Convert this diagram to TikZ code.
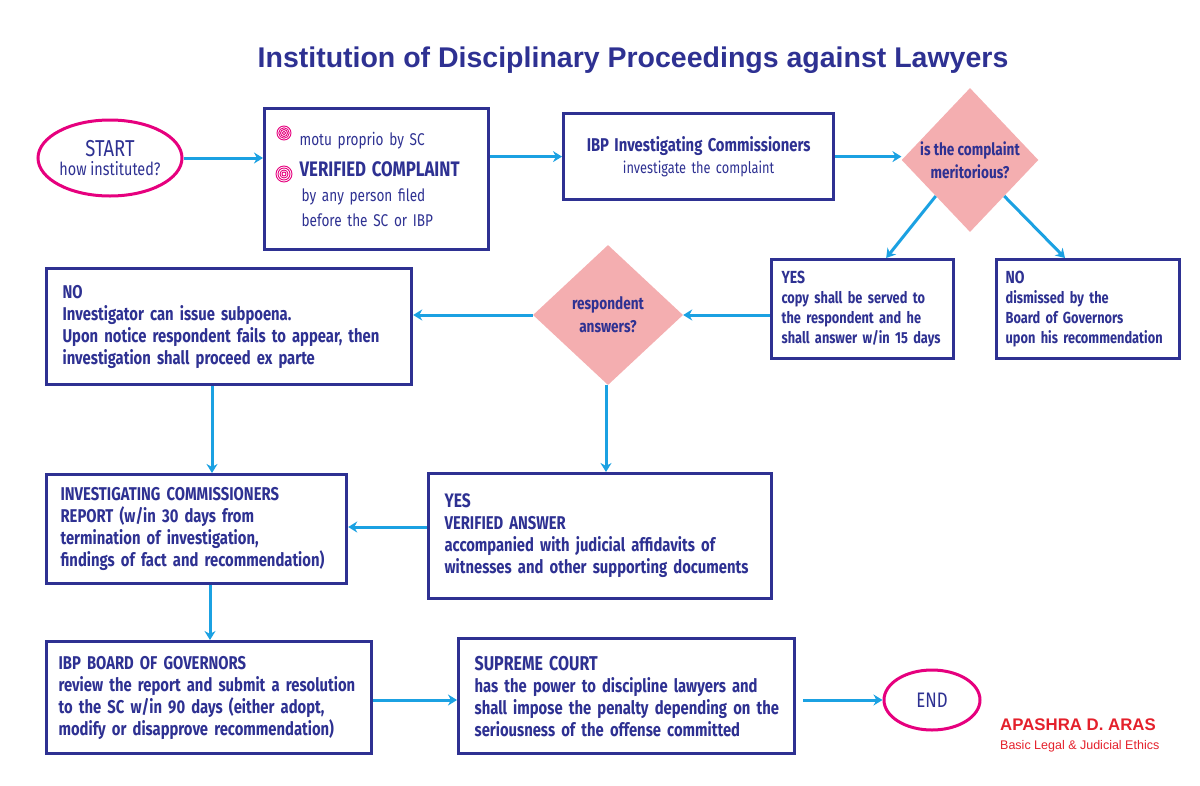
\documentclass[tikz,border=0pt]{standalone}
\usepackage{fontspec}
\setmainfont[FakeStretch=0.8]{Fira Sans}
\newfontfamily\titlefont{Liberation Sans}
\usetikzlibrary{shapes.geometric,arrows.meta}
\definecolor{navy}{HTML}{2E3192}
\definecolor{cyanA}{HTML}{1BA1E2}
\definecolor{pinkD}{HTML}{F4AEB0}
\definecolor{mag}{HTML}{E6007E}
\definecolor{sig}{HTML}{E4202B}
\begin{document}
\begin{tikzpicture}[x=1pt,y=-1pt,
 box/.style={draw=navy,line width=3.2pt,fill=white,anchor=north west,align=left,text=navy,font=\bfseries\fontsize{18.5}{22}\selectfont,inner ysep=6pt},
 dia/.style={diamond,fill=pinkD,text=navy,align=center,font=\bfseries\fontsize{17}{23}\selectfont,inner sep=0pt},
 oval/.style={ellipse,draw=mag,line width=3pt,fill=white,text=navy,align=center,inner sep=0pt},
 arr/.style={cyanA,line width=3pt,-{Stealth[length=9pt,width=11pt]}}]
\useasboundingbox (0,0) rectangle (1200,785);
\node[text=navy,font=\titlefont\bfseries\fontsize{28.5}{32}\selectfont] (title) at (633,60) {Institution of Disciplinary Proceedings against Lawyers};

\node[oval,minimum width=144pt,minimum height=76pt] (start) at (110,158) {{\fontsize{23}{24}\selectfont START}\\[3pt]{\fontsize{18}{20}\selectfont how instituted?}};
\node[box,font=\fontsize{17}{25}\selectfont,minimum height=141pt,text width=194pt,inner xsep=15pt] (b1) at (263,107)
 {\hspace*{20pt}motu proprio by SC\\[6pt]
  \hspace*{20pt}{\bfseries\fontsize{21}{25}\selectfont VERIFIED COMPLAINT}\\
  \hspace*{22pt}by any person filed\\
  \hspace*{22pt}before the SC or IBP};
\foreach \yy/\r in {133/7,174/8}{
 \foreach \k in {1,...,4}{\draw[mag,line width=0.9pt] (284,\yy) circle ({\r*\k/4});}}
\node[box,font=\fontsize{16}{22}\selectfont,minimum height=86pt,align=center,text width=254pt,inner xsep=8pt] (b2) at (562,112)
 {{\bfseries\fontsize{18.5}{22}\selectfont IBP Investigating Commissioners}\\investigate the complaint\\[10pt]};
\node[dia,minimum width=130pt,minimum height=144pt] (d1) at (970,160) {is the complaint\\meritorious?};
\node[box,font=\bfseries\fontsize{16}{20}\selectfont,minimum height=99pt,text width=162pt,inner xsep=10pt] (yes1) at (770,258)
 {{\fontsize{17.5}{20}\selectfont YES}\\copy shall be served to\\the respondent and he\\shall answer w/in 15 days};
\node[box,font=\bfseries\fontsize{16}{20}\selectfont,minimum height=99pt,text width=165pt,inner xsep=9pt] (no1) at (995,258)
 {{\fontsize{17.5}{20}\selectfont NO}\\dismissed by the\\Board of Governors\\upon his recommendation};
\node[dia,minimum width=150pt,minimum height=140pt] (d2) at (608,315) {respondent\\answers?};
\node[box,minimum height=116pt,text width=333pt,inner xsep=16pt] (no2) at (45,267)
 {NO\\Investigator can issue subpoena.\\Upon notice respondent fails to appear, then\\investigation shall proceed ex parte\\[4pt]};
\node[box,minimum height=109pt,text width=272pt,inner xsep=14pt] (rep) at (45,473)
 {INVESTIGATING COMMISSIONERS\\REPORT (w/in 30 days from\\termination of investigation,\\findings of fact and recommendation)};
\node[box,minimum height=125pt,text width=311pt,inner xsep=16pt] (yes2) at (427,472)
 {{\fontsize{19.5}{22}\selectfont YES}\\VERIFIED ANSWER\\accompanied with judicial affidavits of\\witnesses and other supporting documents};
\node[box,minimum height=112pt,text width=301pt,inner xsep=12pt] (ibp) at (45,640)
 {IBP BOARD OF GOVERNORS\\review the report and submit a resolution\\to the SC w/in 90 days (either adopt,\\modify or disapprove recommendation)};
\node[box,minimum height=115pt,text width=312pt,inner xsep=12pt] (sc) at (457,637)
 {\hspace*{4pt}{\fontsize{20}{24}\selectfont SUPREME COURT}\\\hspace*{4pt}has the power to discipline lawyers and\\\hspace*{4pt}shall impose the penalty depending on the\\\hspace*{4pt}seriousness of the offense committed};
\node[oval,minimum width=96pt,minimum height=60pt,font=\fontsize{21}{22}\selectfont] (end) at (932,700) {END};
\node[anchor=north west,text=sig,font=\titlefont\bfseries\fontsize{16.8}{18}\selectfont,inner sep=0pt] (sig1) at (1000,719) {APASHRA D. ARAS};
\node[anchor=north west,text=sig,font=\titlefont\fontsize{12.5}{14}\selectfont,inner sep=0pt] (sig2) at (1000,740) {Basic Legal \& Judicial Ethics};

\draw[arr] (start.east) -- (b1.west |- start.east);
\draw[arr] (b1.east |- b2.west) -- (b2.west);
\draw[arr] (b2.east) -- (d1.west |- b2.east);
\draw[arr] (d1.south west) -- ([xshift=-69pt]yes1.north east);
\draw[arr] (d1.south east) -- ([xshift=70pt]no1.north west);
\draw[arr] (yes1.west |- d2.east) -- (d2.east);
\draw[arr] (d2.west) -- (no2.east |- d2.west);
\draw[arr] ([xshift=167pt]no2.south west) -- ([xshift=167pt]rep.north west);
\draw[arr] ([xshift=-2pt]d2.south) -- ([xshift=179pt]yes2.north west);
\draw[arr] (yes2.west |- 0,527) -- (rep.east |- 0,527);
\draw[arr] ([xshift=165pt]rep.south west) -- ([xshift=165pt]ibp.north west);
\draw[arr] (ibp.east |- 0,700) -- (sc.west |- 0,700);
\draw[arr] ([xshift=7pt]sc.east |- 0,700) -- (end.west);
\end{tikzpicture}
\end{document}
